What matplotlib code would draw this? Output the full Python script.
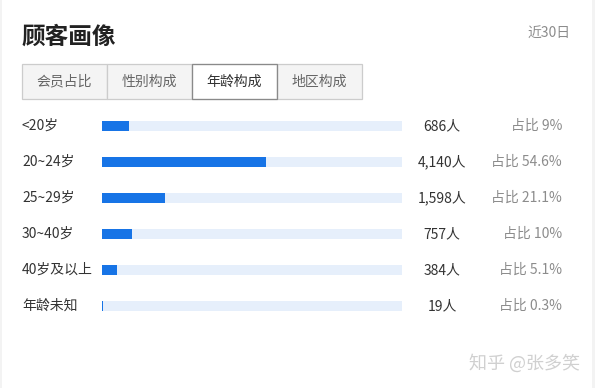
"""顾客画像 – 年龄构成 bar card (matplotlib)."""

import matplotlib
matplotlib.use("Agg")
import matplotlib.pyplot as plt
from matplotlib.patches import Rectangle

plt.rcParams["font.family"] = ["Noto Sans CJK SC", "DejaVu Sans"]

# ── Data ──────────────────────────────────────────────────────────────────
TITLE = "顾客画像"
PERIOD = "近30日"
TABS = ["会员占比", "性别构成", "年龄构成", "地区构成"]
ACTIVE_TAB = 2
AGE_GROUPS = ["<20岁", "20~24岁", "25~29岁", "30~40岁", "40岁及以上", "年龄未知"]
COUNTS = [686, 4140, 1598, 757, 384, 19]
SHARES = [9, 54.6, 21.1, 10, 5.1, 0.3]      # 占比 %
WATERMARK = "知乎 @张多笑"

# ── Style constants (pixel layout, 595x388) ───────────────────────────────
W, H = 595, 388
DPI = 100
BG_OUTER = "#f3f3f3"
BG_CARD = "#ffffff"
TEXT_DARK = "#222222"
TEXT_MAIN = "#333333"
TEXT_GRAY = "#8c8c8c"
TAB_FILL = "#f4f4f4"
TAB_EDGE = "#cccccc"
TAB_EDGE_ON = "#8a8a8a"
BAR_COLOR = "#1774e6"
TRACK_COLOR = "#e6effb"

BAR_X0 = 102
BAR_LEN = 300           # px for 100 %
BAR_H = 10
ROW_Y0 = 126
ROW_STEP = 36

fig = plt.figure(figsize=(W / DPI, H / DPI), dpi=DPI)
fig.patch.set_facecolor(BG_OUTER)
ax = fig.add_axes([0, 0, 1, 1])
ax.set_xlim(0, W)
ax.set_ylim(H, 0)
ax.axis("off")

# card
ax.add_patch(Rectangle((2, -1), 590, H + 2, facecolor=BG_CARD, edgecolor="none"))

# header
ax.text(22, 37, TITLE, fontsize=17, fontweight="bold", color=TEXT_DARK,
        ha="left", va="center")
ax.text(571, 33, PERIOD, fontsize=10, color=TEXT_GRAY, ha="right", va="center")

# tabs
tab_x, tab_w, tab_y, tab_h = 22, 85, 64, 35
for i, name in enumerate(TABS):
    x = tab_x + i * tab_w
    on = i == ACTIVE_TAB
    ax.add_patch(Rectangle((x, tab_y), tab_w, tab_h,
                           facecolor=BG_CARD if on else TAB_FILL,
                           edgecolor=TAB_EDGE, linewidth=0.9, zorder=2))
    ax.text(x + tab_w / 2, tab_y + tab_h / 2, name, fontsize=10,
            color=TEXT_MAIN if on else "#666666",
            ha="center", va="center", zorder=4)
x_on = tab_x + ACTIVE_TAB * tab_w
ax.add_patch(Rectangle((x_on, tab_y), tab_w, tab_h, facecolor="none",
                       edgecolor=TAB_EDGE_ON, linewidth=0.9, zorder=3))

# bars
ys = [ROW_Y0 + i * ROW_STEP for i in range(len(AGE_GROUPS))]
ax.barh(ys, [BAR_LEN] * len(ys), left=BAR_X0, height=BAR_H,
        color=TRACK_COLOR, zorder=2)
ax.barh(ys, [s / 100 * BAR_LEN for s in SHARES], left=BAR_X0, height=BAR_H,
        color=BAR_COLOR, zorder=3)

for y, label, n, s in zip(ys, AGE_GROUPS, COUNTS, SHARES):
    ax.text(22, y, label, fontsize=10, color=TEXT_MAIN, ha="left", va="center")
    ax.text(442, y, f"{n:,}人", fontsize=10, color=TEXT_MAIN,
            ha="center", va="center")
    ax.text(562, y, f"占比 {s:g}%", fontsize=10, color=TEXT_GRAY,
            ha="right", va="center")

# watermark
ax.text(580, 363, WATERMARK, fontsize=13, color="#d0d0d0",
        ha="right", va="center")

fig.savefig("out.png", dpi=DPI, facecolor=BG_OUTER)
